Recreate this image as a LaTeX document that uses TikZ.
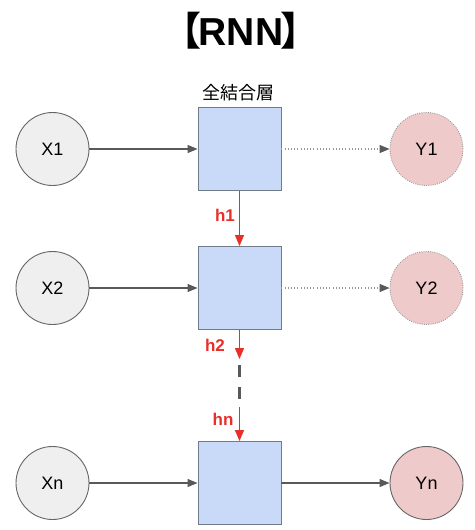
\documentclass[tikz,border=0pt]{standalone}
\usepackage{fontspec}
\setmainfont{Liberation Sans}
\newfontfamily\cjk{Noto Sans CJK JP}
\usetikzlibrary{arrows.meta}
\definecolor{xfill}{HTML}{EFEFEF}
\definecolor{edgegray}{HTML}{666666}
\definecolor{dotgray}{HTML}{999999}
\definecolor{boxfill}{HTML}{C9DAF8}
\definecolor{boxedge}{HTML}{6F7B8B}
\definecolor{yfill}{HTML}{EFCACA}
\definecolor{hred}{HTML}{E8302A}
\definecolor{arrgray}{HTML}{595959}
\begin{document}
\begin{tikzpicture}[x=1pt,y=-1pt,
  xnode/.style={circle,draw=edgegray,fill=xfill,line width=0.9pt,minimum size=73pt,inner sep=0pt,font=\fontsize{18}{18}\selectfont},
  ynode/.style={circle,draw=edgegray,fill=yfill,line width=0.9pt,minimum size=73pt,inner sep=0pt,font=\fontsize{18}{18}\selectfont},
  ydot/.style={draw=dotgray,dash pattern=on 0.9pt off 1.3pt},
  layer/.style={rectangle,draw=boxedge,fill=boxfill,line width=0.9pt,minimum width=83pt,minimum height=83pt,inner sep=0pt},
  garrow/.style={draw=arrgray,line width=1.1pt,-{Triangle[length=10pt,width=8pt]}},
  gdot/.style={draw=dotgray,line width=1.1pt,dash pattern=on 1pt off 2.2pt,-{Triangle[length=10pt,width=8pt,color=arrgray,fill=arrgray]}},
  rarrow/.style={draw=hred,line width=1.3pt,-{Triangle[length=11pt,width=9pt]}},
  hlabel/.style={text=hred,font=\bfseries\fontsize{17}{17}\selectfont,inner sep=0pt}
]
\useasboundingbox (0,0) rectangle (474,530);
\node[font=\bfseries\fontsize{39}{39}\selectfont,inner sep=0pt] (title) at (241,31) {{\cjk\bfseries 【}\kern-0.08em RNN\kern-0.08em{\cjk\bfseries 】}};
\node[font=\cjk\fontsize{18}{18}\selectfont,inner sep=0pt] (fc) at (238,93) {全結合層};

\node[xnode] (x1) at (52.5,149) {X1};
\node[xnode] (x2) at (52.5,288) {X2};
\node[xnode] (xn) at (52.5,483) {Xn};
\node[layer] (b1) at (239.5,149) {};
\node[layer] (b2) at (239.5,288) {};
\node[layer] (bn) at (239.5,483) {};
\node[ynode,ydot] (y1) at (426.5,149) {Y1};
\node[ynode,ydot] (y2) at (426.5,288) {Y2};
\node[ynode] (yn) at (426.5,483) {Yn};

\draw[garrow] (x1) -- (b1);
\draw[garrow] (x2) -- (b2);
\draw[garrow] (xn) -- (bn);
\draw[gdot] (b1) -- (y1);
\draw[gdot] (b2) -- (y2);
\draw[garrow] (bn) -- (yn);

\coordinate (h2end) at (239.5,359);
\coordinate (dashA) at (239.5,365);
\coordinate (dashB) at (239.5,399);
\coordinate (hnstart) at (239.5,407);
\draw[rarrow] (b1.south) -- (b2.north);
\draw[rarrow] (b2.south) -- (h2end);
\draw[draw=arrgray,line width=3pt,dash pattern=on 12pt off 10pt] (dashA) -- (dashB);
\draw[rarrow] (hnstart) -- (bn.north);

\node[hlabel] (h1) at (225,215) {h1};
\node[hlabel] (h2) at (215,345) {h2};
\node[hlabel] (hn) at (223,419) {hn};
\end{tikzpicture}
\end{document}
